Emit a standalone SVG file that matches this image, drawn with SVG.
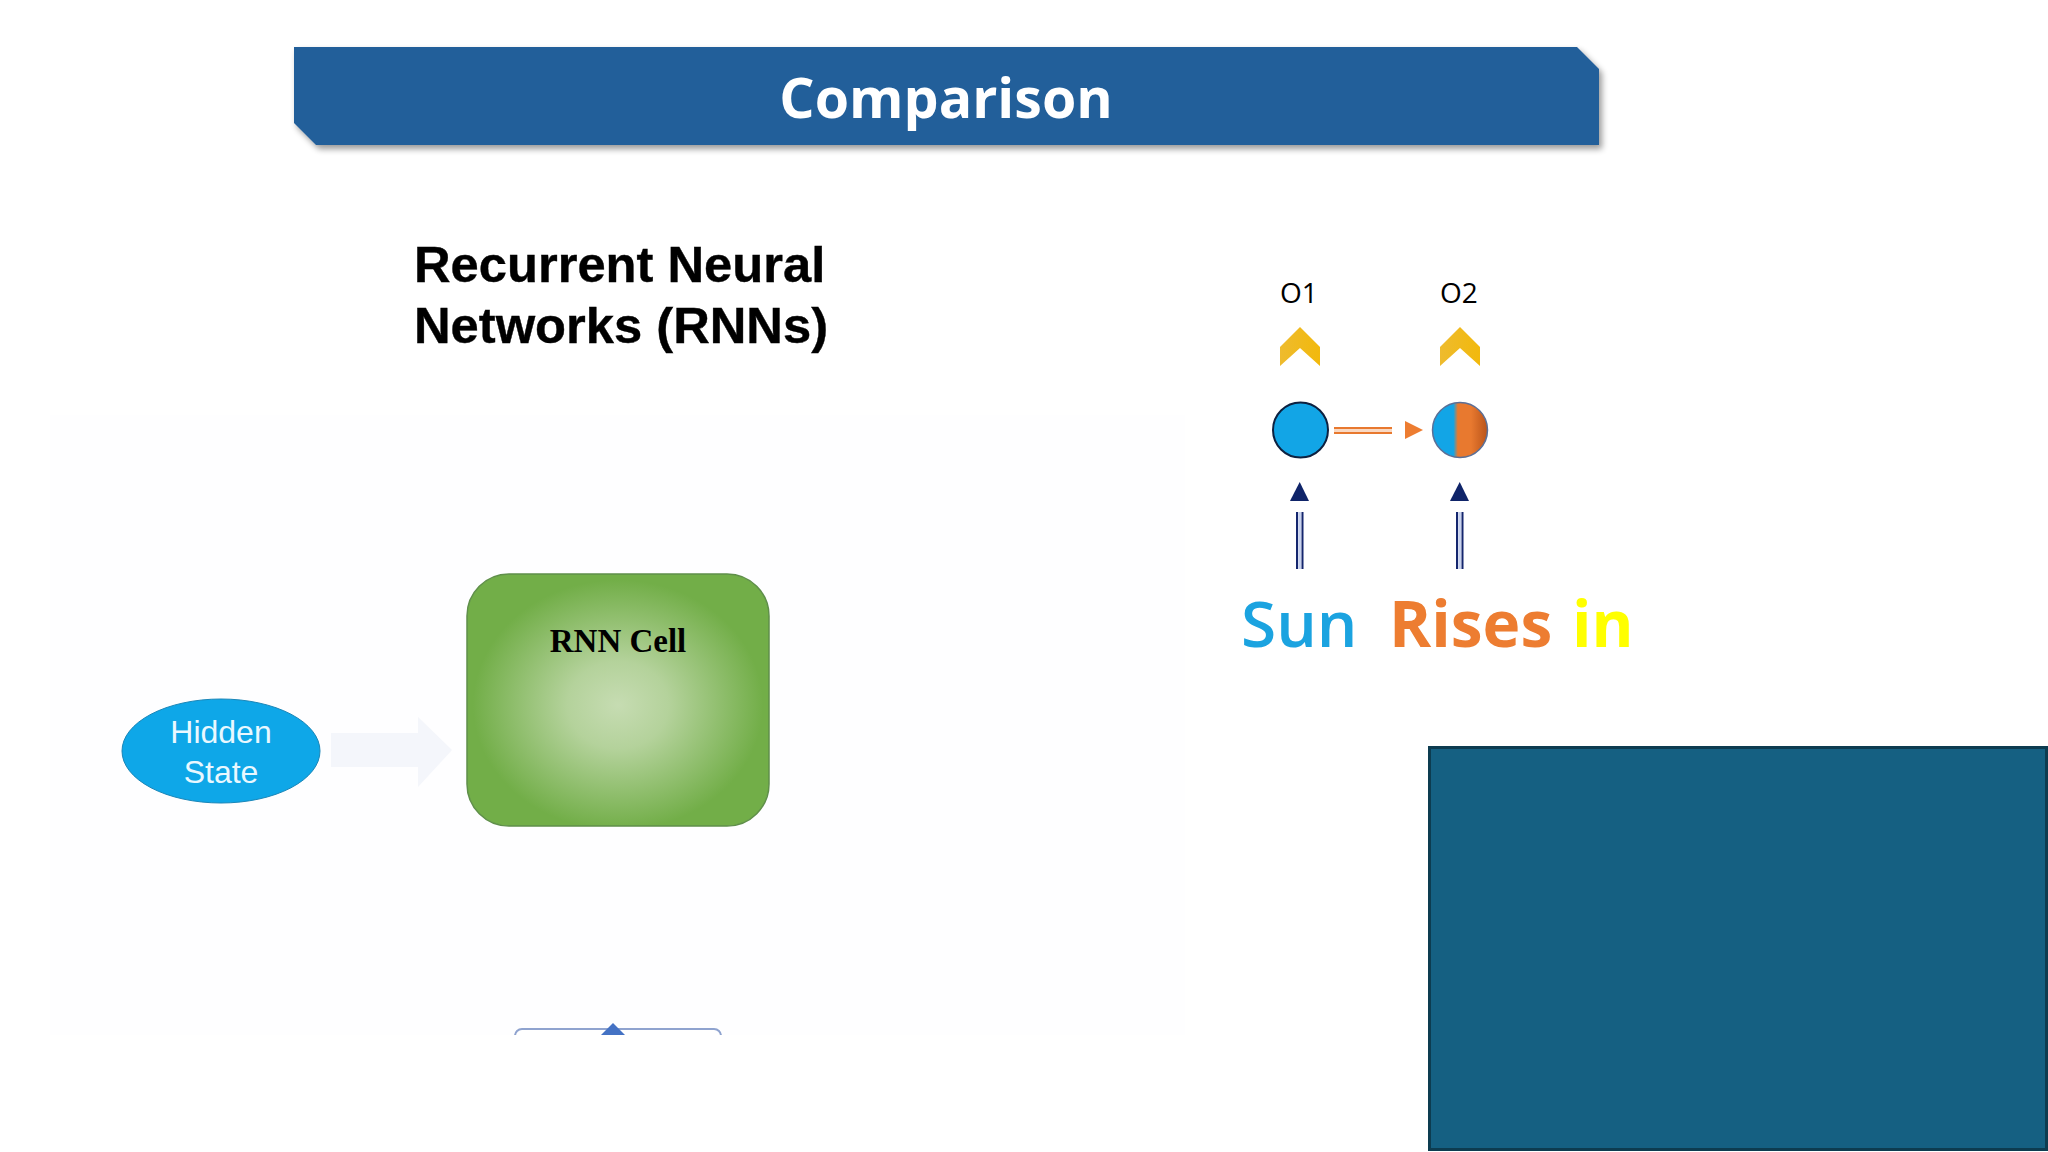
<svg xmlns="http://www.w3.org/2000/svg" width="2048" height="1152" viewBox="0 0 2048 1152">
<style>
.sans{font-family:"Liberation Sans",Arial,sans-serif}
.open{font-family:"Open Sans","Noto Sans",sans-serif}
.serif{font-family:"Liberation Serif","Times New Roman",serif}
.mid{text-anchor:middle}
.navy{fill:#0f2469}
.gold{fill:url(#gold)}
.rail-v{stroke:#14266e;stroke-width:2;fill:none}
.fill-v{stroke:#c9d3ee;stroke-width:3;fill:none}
.rail-h{stroke:#e8792f;stroke-width:2;fill:none}
.fill-h{stroke:#f9d9c3;stroke-width:3;fill:none}
</style>
<defs>
<filter id="sh" x="-5%" y="-20%" width="110%" height="150%"><feGaussianBlur in="SourceAlpha" stdDeviation="3"/><feOffset dx="3" dy="4"/><feComponentTransfer><feFuncA type="linear" slope="0.4"/></feComponentTransfer><feMerge><feMergeNode/><feMergeNode in="SourceGraphic"/></feMerge></filter>
<radialGradient id="cell" gradientUnits="userSpaceOnUse" cx="618" cy="705" r="1" gradientTransform="translate(618 705) scale(145 125) translate(-618 -705)"><stop offset="0" stop-color="#c6dcb2"/><stop offset=".35" stop-color="#b4d29b"/><stop offset="1" stop-color="#72ae48"/></radialGradient>
<linearGradient id="half" x1="0" x2="1" y1="0" y2="0"><stop offset="0" stop-color="#12a5e6"/><stop offset=".38" stop-color="#12a5e6"/><stop offset=".46" stop-color="#e8792f"/><stop offset=".7" stop-color="#e8792f"/><stop offset="1" stop-color="#b9541a"/></linearGradient>
<linearGradient id="gold" x1="0" x2="1" y1="0" y2="0"><stop offset="0" stop-color="#eebb2e"/><stop offset="1" stop-color="#f2b90c"/></linearGradient>
<clipPath id="panel"><rect x="50" y="405" width="1135" height="630"/></clipPath>
</defs>
<rect width="2048" height="1152" fill="#fff"/>
<rect id="panel-bg" x="50" y="415" width="1135" height="620" fill="#fefeff"/>
<g id="banner">
<path d="M294 47H1577L1599 69V145H316L294 123Z" fill="#215f9a" filter="url(#sh)"/>
<text class="open mid" x="946" y="118" font-size="55.500" font-weight="700" fill="#fff">Comparison</text>
</g>
<g id="heading" class="sans" font-size="50.700" font-weight="700" fill="#000" stroke="#000" stroke-width=".4">
<text x="414" y="282">Recurrent Neural</text>
<text x="414" y="343">Networks (RNNs)</text>
</g>
<g id="connectors">
<path d="M331 733H418V717L452 750L418 787V767H331Z" fill="#f4f6fb"/>
<path d="M1334 431H1392" class="fill-h" transform="translate(0 -.5)"/>
<path d="M1334 428H1392M1334 433H1392" class="rail-h"/>
<path d="M1405 421L1423 430L1405 439Z" fill="#ed7d31"/>
<path d="M1299.700 512V569" class="fill-v"/>
<path d="M1297 512V569M1302.500 512V569" class="rail-v"/>
<path d="M1290 501L1299.700 482L1309 501Z" class="navy"/>
<path d="M1459.700 512V569" class="fill-v"/>
<path d="M1457 512V569M1462.500 512V569" class="rail-v"/>
<path d="M1450 501L1459.700 482L1469 501Z" class="navy"/>
<path d="M1280 347L1300 327L1320 347V366L1300 348L1280 366Z" class="gold"/>
<path d="M1440 347L1460 327L1480 347V366L1460 348L1440 366Z" class="gold"/>
</g>
<g id="node-o1">
<text class="open mid" x="1299" y="303" font-size="28" fill="#000">O1</text>
<circle cx="1300.500" cy="430" r="27.500" fill="#12a5e6" stroke="#0d2140" stroke-width="2"/>
</g>
<g id="node-o2">
<text class="open mid" x="1459" y="303" font-size="28" fill="#000">O2</text>
<circle cx="1460" cy="430" r="27.500" fill="url(#half)" stroke="#5b6f96" stroke-width="1.500"/>
</g>
<g id="word-sun"><text class="open" x="1241" y="647" font-size="64" font-weight="600" fill="#1ba3e0">Sun</text></g>
<g id="word-rises"><text class="open" x="1389" y="647" font-size="64" font-weight="700" fill="#ed7d31">Rises</text></g>
<g id="word-in"><text class="open" x="1572" y="647" font-size="64" font-weight="700" fill="#ffff00">in</text></g>
<g id="node-hidden">
<ellipse cx="221" cy="751" rx="99" ry="52" fill="#0ea7e8" stroke="#1a86b8" stroke-width="1"/>
<text class="sans mid" x="221" y="743" font-size="32" fill="#e9f8ff">Hidden</text>
<text class="sans mid" x="221" y="783" font-size="32" fill="#e9f8ff">State</text>
</g>
<g id="node-cell">
<rect x="467" y="574" width="302" height="252" rx="42" ry="42" fill="url(#cell)" stroke="#5f8f4a" stroke-width="1.500"/>
<text class="serif mid" x="618" y="652" font-size="33" font-weight="700" fill="#000">RNN Cell</text>
</g>
<g id="clipped-shape" clip-path="url(#panel)">
<rect x="515" y="1029" width="206" height="40" rx="7" fill="#fff" stroke="#8fa3cf" stroke-width="2"/>
<path d="M600 1036L613 1023L626 1036Z" fill="#4472c4"/>
</g>
<rect id="teal-panel" x="1429.500" y="747.500" width="617" height="402" fill="#156082" stroke="#0d3c50" stroke-width="3"/>
</svg>
